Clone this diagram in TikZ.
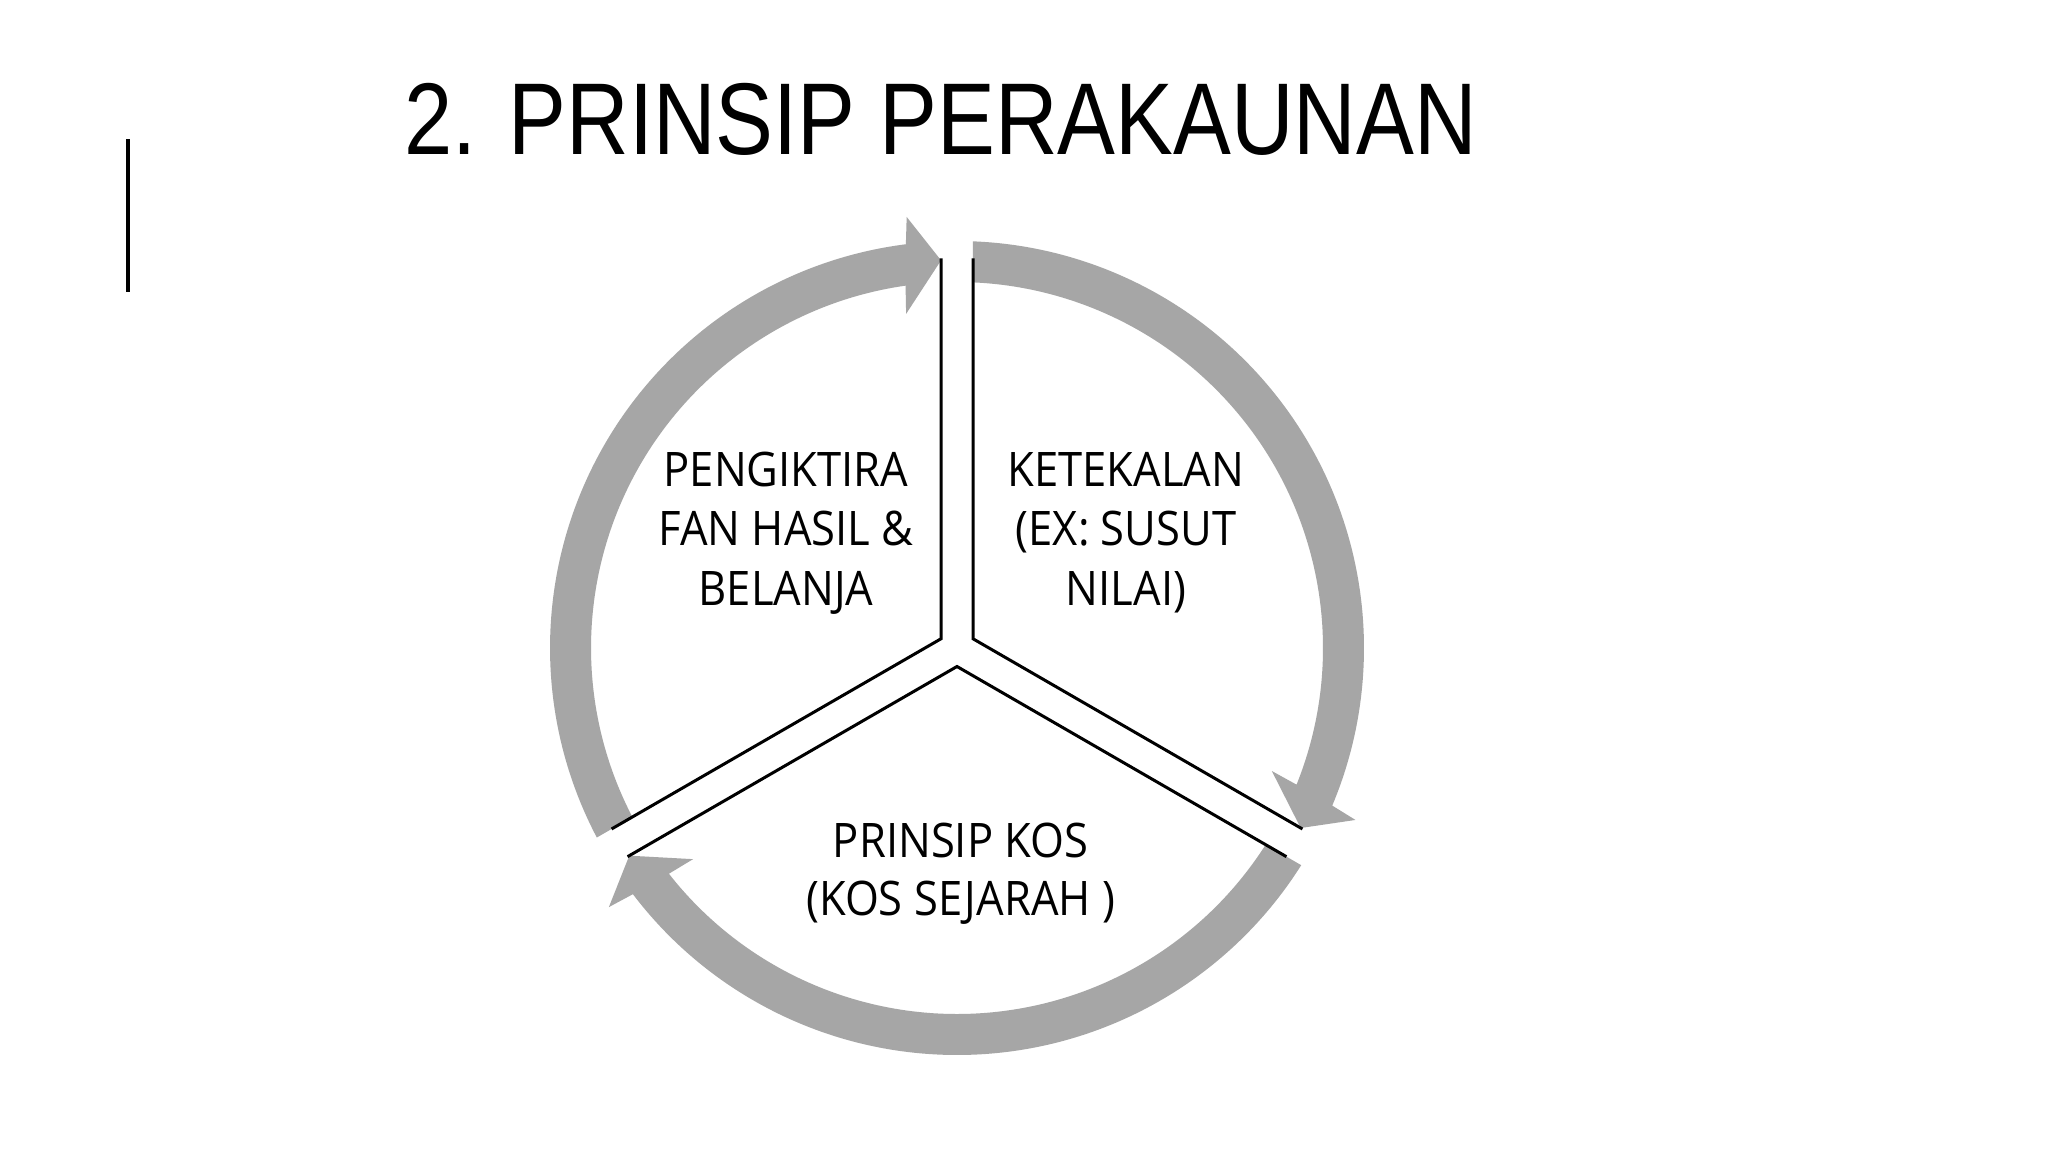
\documentclass[tikz,border=0pt]{standalone}
\usepackage{fontspec}
\setmainfont[FakeStretch=0.915]{Open Sans}
\newfontfamily\titlefont[FakeStretch=0.85]{Liberation Sans}
\definecolor{arrowgray}{HTML}{A6A6A6}
\begin{document}
\begin{tikzpicture}[x=1pt,y=1pt,
  chan/.style={line width=3pt, black, line join=miter},
  ringarrow/.style={fill=arrowgray, draw=none},
  lbl/.style={font=\fontsize{47.6}{59.4}\selectfont, inner sep=0pt, anchor=base}]
\useasboundingbox (0,0) rectangle (2048,-1152);
\fill[white] (0,0) rectangle (2048,-1152);
\node[font=\titlefont\fontsize{102}{120}\selectfont, anchor=base west, inner sep=0pt] (title) at (404,-154) {2. PRINSIP PERAKAUNAN};
\draw[line width=4pt] (127.5,-139) coordinate (barT) -- (127.5,-292) coordinate (barB);
\begin{scope}[shift={(957,-648)}]
 \foreach \k in {0,120,240} {
  \begin{scope}[rotate=\k]
   \fill[ringarrow] (207.75:407) arc[start angle=207.75, end angle=97.22, radius=407]
     -- (96.66:434) -- (92.36:388) -- (98.66:338) -- (98.08:366)
     arc[start angle=98.08, end angle=207.5, radius=366] -- cycle;
   \draw[chan] (92.35:390) -- (-16,9.24) -- (207.65:390);
  \end{scope}
 }
\end{scope}
\node[lbl] (l1) at (786,-486) {PENGIKTIRA};
\node[lbl] (l2) at (786,-545.5) {FAN HASIL \&};
\node[lbl] (l3) at (786,-605) {BELANJA};
\node[lbl] (r1) at (1126,-486) {KETEKALAN};
\node[lbl] (r2) at (1126,-545.5) {(EX: SUSUT};
\node[lbl] (r3) at (1126,-605) {NILAI)};
\node[lbl] (b1) at (960.6,-857) {PRINSIP KOS};
\node[lbl] (b2) at (960.6,-915.6) {(KOS SEJARAH )};
\end{tikzpicture}
\end{document}
